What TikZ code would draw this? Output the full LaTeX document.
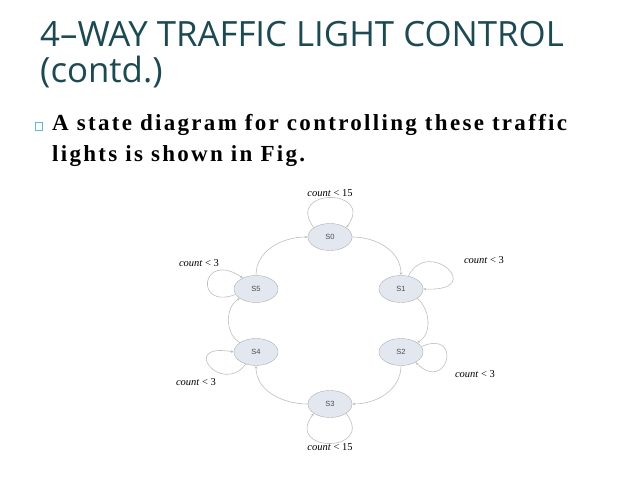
\documentclass[tikz,border=0pt]{standalone}
\usepackage{xcolor}
\usepackage{fontspec}
\setmainfont{Liberation Serif}
\newfontfamily\titlefont{Open Sans}
\newfontfamily\statefont{Liberation Sans}
\newfontfamily\bodyfont[LetterSpace=10]{Liberation Serif}
\usepackage{tikz}
\usetikzlibrary{arrows.meta}
\usetikzlibrary{shapes.geometric}

\definecolor{titleteal}{HTML}{1D4A52}
\definecolor{statefill}{HTML}{E3E8F0}
\definecolor{bulletcyan}{HTML}{5BB8D6}

\begin{document}
\begin{tikzpicture}[
  x=1pt, y=-1pt,
  state/.style={
      ellipse,
      draw=gray!60,
      fill=statefill,
      minimum width=44pt,
      minimum height=27pt,
      inner sep=0pt,
      font=\statefont\fontsize{7.5}{8}\selectfont,
      text=black!70
  },
  arr/.style={-{Stealth[length=3pt,width=2.5pt]}, draw=gray!50, line width=0.6pt},
  cond/.style={font=\fontsize{10.5}{12}\selectfont, inner sep=0pt}
]
\useasboundingbox[fill=white] (0,0) rectangle (638,478);

% heading and text
\node[anchor=base west, inner sep=0pt, text=titleteal,
      font=\titlefont\fontsize{34.8}{38}\selectfont] (title1) at (40,47) {4–WAY TRAFFIC LIGHT CONTROL};
\node[anchor=base west, inner sep=0pt, text=titleteal,
      font=\titlefont\fontsize{34.8}{38}\selectfont] (title2) at (40,83) {(contd.)};
\node[draw=bulletcyan, line width=0.5pt, minimum width=7pt, minimum height=8pt, inner sep=0pt] (bullet) at (39,126.5) {};
\node[anchor=base west, inner sep=0pt,
      font=\bodyfont\bfseries\fontsize{23}{24}\selectfont] (line1) at (52,131) {A state diagram for controlling these traffic};
\node[anchor=base west, inner sep=0pt,
      font=\bodyfont\bfseries\fontsize{23}{24}\selectfont] (line2) at (52,162) {lights is shown in Fig.};

% states
\node[state] (s0) at (330,237) {S0};
\node[state] (s1) at (401,289) {S1};
\node[state] (s2) at (401,352) {S2};
\node[state] (s3) at (330,404) {S3};
\node[state] (s4) at (256,352) {S4};
\node[state] (s5) at (256,289) {S5};

% transitions
\draw[arr] (s0.east) to[out=0,in=90] (s1.north);
\draw[arr] (s1.-30) to[out=-40,in=30] (s2.30);
\draw[arr] (s2.south) to[out=-90,in=0] (s3.east);
\draw[arr] (s3.west) to[out=180,in=-90] (s4.south);
\draw[arr] (s4.150) to[out=150,in=-150] (s5.-150);
\draw[arr] (s5.north) to[out=90,in=180] (s0.west);

% self loops
\draw[arr] (s0.150) .. controls +(-30,-40) and +(30,-40) .. (s0.30);
\draw[arr] (s1.60) .. controls +(20,-40) and +(65,3) .. (s1.east);
\draw[arr] (s2.15) .. controls +(42,-18) and +(32,32) .. (s2.-35);
\draw[arr] (s3.-30) .. controls +(30,40) and +(-30,40) .. (s3.-150);
\draw[arr] (s4.-130) .. controls +(-25,32) and +(-55,-10) .. (s4.west);
\draw[arr] (s5.-165) .. controls +(-42,16) and +(-42,-28) .. (s5.140);

% loop conditions
\node[cond] (c0) at (330,193) {\textit{count} < 15};
\node[cond] (c1) at (484,260) {\textit{count} < 3};
\node[cond] (c2) at (475,374) {\textit{count} < 3};
\node[cond] (c3) at (330,447) {\textit{count} < 15};
\node[cond] (c4) at (196,382) {\textit{count} < 3};
\node[cond] (c5) at (199,263) {\textit{count} < 3};

\end{tikzpicture}
\end{document}
